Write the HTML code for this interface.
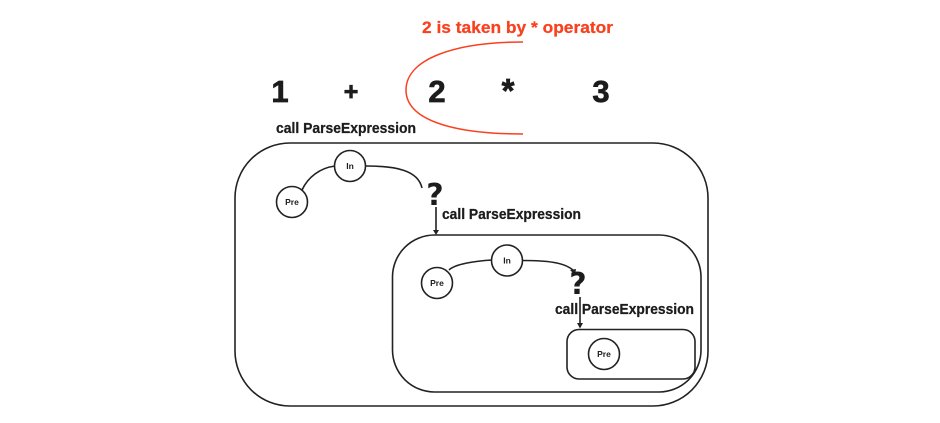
<!DOCTYPE html>
<html>
<head>
<meta charset="utf-8">
<style>
html,body{margin:0;padding:0;background:#fff;width:940px;height:423px;overflow:hidden}
svg{display:block}
text{font-family:"Liberation Sans","DejaVu Sans",sans-serif;font-weight:bold;fill:#1c1c1c}
text.d{font-family:"DejaVu Sans","Liberation Sans",sans-serif}
text.s{stroke:#1c1c1c;stroke-width:.25px}
text.n{stroke:#1c1c1c;stroke-width:.7px}
</style>
</head>
<body>
<svg width="940" height="423" viewBox="0 0 940 423" xmlns="http://www.w3.org/2000/svg">
<rect width="940" height="423" fill="#fff"/>
<text x="422" y="33" font-size="17" style="fill:#f9401f;stroke:#f9401f;stroke-width:.25px" textLength="191" lengthAdjust="spacingAndGlyphs">2 is taken by * operator</text>
<path d="M523 42 C452 42 406 60 406 90 C406 119 450 134 523 134" fill="none" stroke="#f9401f" stroke-width="1.5"/>
<text class="n" x="280" y="102" font-size="31" text-anchor="middle">1</text>
<text class="n" x="351" y="100" font-size="25" text-anchor="middle">+</text>
<text class="n" x="437" y="102" font-size="31" text-anchor="middle">2</text>
<text class="n" x="508" y="102" font-size="33" text-anchor="middle">*</text>
<text class="n" x="601" y="102" font-size="31" text-anchor="middle">3</text>
<text class="s" x="276" y="133" font-size="14.5" textLength="140" lengthAdjust="spacingAndGlyphs">call ParseExpression</text>
<g fill="none" stroke="#222" stroke-width="1.6">
<rect x="235" y="143" width="473" height="263" rx="55" ry="55"/>
<rect x="392.5" y="235" width="308.5" height="157" rx="42" ry="42"/>
<rect x="567" y="329.500" width="128" height="49.500" rx="12" ry="12"/>
<path d="M302 190 C308 177 320 168 335 166"/>
<path d="M366 166 C395 166 418 170 422 188"/>
<path d="M449 270 C455 264 475 261 492 260"/>
<path d="M523 260.500 C545 260.500 565 262 574 271"/>
<path d="M436 207 V231"/>
<path d="M580 297 V324"/>
<circle cx="292" cy="202" r="15.500" fill="#fff"/>
<circle cx="350" cy="166" r="15.500" fill="#fff"/>
<circle cx="437" cy="283" r="15.500" fill="#fff"/>
<circle cx="507" cy="260.500" r="15.500" fill="#fff"/>
<circle cx="604" cy="354" r="15.500" fill="#fff"/>
</g>
<path d="M433 230 H439 L436 235 Z" fill="#222"/>
<path d="M577 323 H583 L580 328.500 Z" fill="#222"/>
<path d="M570 270 L576 269 L575 275 Z" fill="#222"/>
<text x="292" y="205" font-size="8.500" text-anchor="middle">Pre</text>
<text x="350" y="169" font-size="8.500" text-anchor="middle">In</text>
<text x="437" y="286" font-size="8.500" text-anchor="middle">Pre</text>
<text x="507" y="263.500" font-size="8.500" text-anchor="middle">In</text>
<text x="604" y="357" font-size="8.500" text-anchor="middle">Pre</text>
<text class="d" x="435" y="205" font-size="30" text-anchor="middle">?</text>
<text class="d" x="578" y="294" font-size="30" text-anchor="middle">?</text>
<text class="s" x="442" y="219" font-size="14.500" textLength="139" lengthAdjust="spacingAndGlyphs">call ParseExpression</text>
<text class="s" x="555" y="314" font-size="14.500" textLength="139" lengthAdjust="spacingAndGlyphs">call ParseExpression</text>
</svg>
</body>
</html>
